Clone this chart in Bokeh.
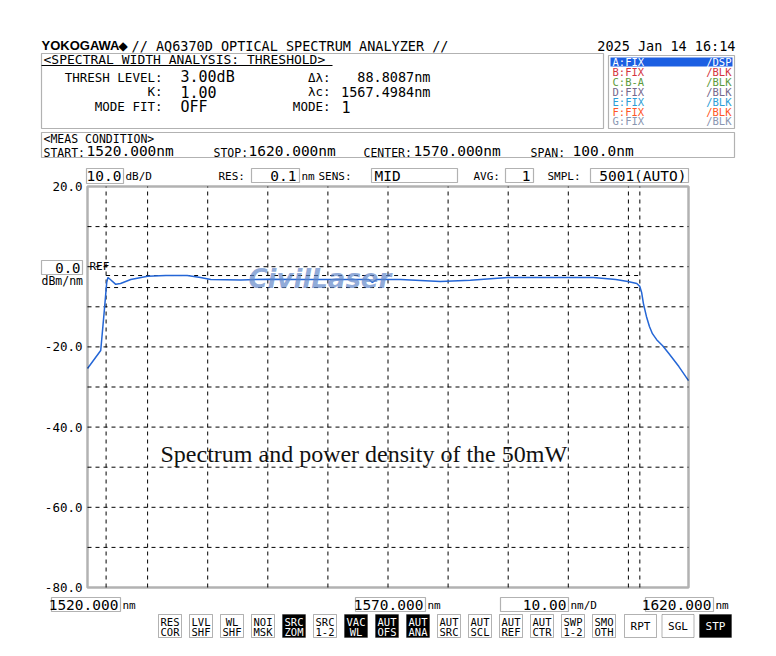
from bokeh.plotting import figure
from bokeh.models import Label, BoxAnnotation, Range1d
from bokeh.embed import file_html
from bokeh.resources import INLINE

# ---------------- data ----------------
wavelength = [1520.0, 1522.2, 1522.8, 1523.2, 1523.4, 1523.8, 1524.7, 1525.5, 1527.2, 1530.0,
              1533.0, 1536.6, 1538.8, 1540.5, 1545.5, 1550.4, 1555.4, 1562.1, 1566.8, 1567.4,
              1568.1, 1572.1, 1578.7, 1583.7, 1589.9, 1597.0, 1604.2, 1607.9, 1609.9, 1611.4,
              1611.9, 1612.2, 1612.5, 1613.0, 1613.5, 1614.0, 1614.7, 1615.7, 1616.7, 1618.4, 1620.0]
level = [-25.4, -20.9, -10.9, -3.9, -2.7, -3.2, -4.4, -4.2, -3.2, -2.4,
         -2.2, -2.2, -2.7, -3.2, -3.3, -3.1, -3.2, -3.2, -3.2, -3.9,
         -3.2, -3.2, -3.7, -3.4, -2.7, -2.7, -2.7, -3.2, -3.7, -4.2,
         -4.9, -6.4, -9.2, -12.4, -14.9, -16.7, -18.2, -19.7, -21.6, -24.9, -28.4]
center_wl = 1567.4984
delta_wl = 88.8087
peak_level = -2.2
thresh_db = 3.0
wl_start, wl_stop = 1520.0, 1620.0
db_top, db_bottom = 20.0, -80.0
y_label_ticks = [20, -20, -40, -60, -80]
y_grid_ticks = [10, 0, -10, -20, -30, -40, -50, -60, -70]
x_grid_ticks = [1530, 1540, 1550, 1560, 1570, 1580, 1590, 1600, 1610]

MONO = "DejaVu Sans Mono"
W, H = 760, 648
# screen placement of the measurement frame (canvas pixels)
FL, FR, FT, FB = 87, 688, 186, 587


def X(px):
    return wl_start + (px - FL) * (wl_stop - wl_start) / (FR - FL)


def Y(py):
    return db_top - (py - FT) * (db_top - db_bottom) / (FB - FT)


p = figure(width=W, height=H, output_backend="svg", toolbar_location=None,
           x_range=Range1d(X(0), X(W)), y_range=Range1d(Y(H), Y(0)),
           x_axis_location=None, y_axis_location=None,
           min_border=0, min_border_left=0, min_border_right=0, min_border_top=0, min_border_bottom=0)
p.background_fill_color = "white"
p.border_fill_color = "white"
p.outline_line_color = None
p.grid.visible = False


def box(l, t, r, b, fill=None, lw=1.2, line="black"):
    p.add_layout(BoxAnnotation(left=X(l), right=X(r), top=Y(t), bottom=Y(b),
                               fill_color=fill if fill else "white",
                               fill_alpha=1 if fill else 0,
                               line_color=line, line_width=lw, level="overlay"))


def txt(s, px, py, size=12, align="left", color="black", font=MONO, style="normal", alpha=1.0):
    p.add_layout(Label(x=X(px), y=Y(py), text=s, text_font=font, text_font_size=f"{size}px",
                       text_align=align, text_baseline="middle", text_color=color,
                       text_font_style=style, text_alpha=alpha, level="overlay"))


# grid (dashed)
p.segment(x0=x_grid_ticks, x1=x_grid_ticks, y0=[db_bottom] * len(x_grid_ticks), y1=[db_top] * len(x_grid_ticks),
          line_color="black", line_dash="4 4", line_width=1)
p.segment(x0=[wl_start] * len(y_grid_ticks), x1=[wl_stop] * len(y_grid_ticks), y0=y_grid_ticks, y1=y_grid_ticks,
          line_color="black", line_dash="4 4", line_width=1)

# threshold markers
lam1 = center_wl - delta_wl / 2
lam2 = center_wl + delta_wl / 2
p.segment(x0=[lam1, lam2], x1=[lam1, lam2], y0=[db_bottom, db_bottom], y1=[db_top, db_top],
          line_color="black", line_dash="4 4", line_width=1)
p.segment(x0=[lam1, lam1], x1=[lam2, lam2],
          y0=[peak_level, peak_level - thresh_db], y1=[peak_level, peak_level - thresh_db],
          line_color="black", line_dash="4 4", line_width=1)

# trace
p.line(wavelength, level, line_color="#2466d6", line_width=1.5)

# frame of the measurement area
p.add_layout(BoxAnnotation(left=wl_start, right=wl_stop, top=db_top, bottom=db_bottom,
                           fill_alpha=0, line_color="black", line_width=2.5, level="overlay"))

# y tick labels (0.0 is shown as the boxed reference level)
for t in y_label_ticks:
    p.add_layout(Label(x=X(FL - 5), y=t, text=f"{t:.1f}", text_font=MONO, text_font_size="12.5px",
                       text_align="right", text_baseline="middle", text_color="black", level="overlay"))

# header
txt("YOKOGAWA", 41, 45, 13, font="Liberation Sans", style="bold")
txt("\u25c6", 118, 45, 12, font="DejaVu Sans")
txt("// AQ6370D OPTICAL SPECTRUM ANALYZER //", 131, 45, 13.5)
txt("2025 Jan 14 16:14", 735, 45, 13.5, align="right")

# analysis box
box(41, 53, 603, 128)
box(41, 64.5, 332, 65.5, fill="black", lw=0, line=None)
txt("<SPECTRAL WIDTH ANALYSIS: THRESHOLD>", 43, 59, 13)
txt("THRESH LEVEL:", 162, 77, 12.5, align="right")
txt("3.00dB", 180, 76, 15)
txt("K:", 162, 91, 12.5, align="right")
txt("1.00", 180, 91, 15)
txt("MODE FIT:", 162, 106, 12.5, align="right")
txt("OFF", 180, 106, 15)
txt("\u0394\u03bb:", 330, 77, 12.5, align="right")
txt("88.8087nm", 430, 76, 13.5, align="right")
txt("\u03bbc:", 330, 91, 12.5, align="right")
txt("1567.4984nm", 430, 91, 13.5, align="right")
txt("MODE:", 330, 106, 12.5, align="right")
txt("1", 341, 106, 15)

# trace status box
box(608, 55, 734, 128)
box(610, 57, 732, 66, fill="#1c5fe2", lw=0, line=None)
traces = [("A:FIX", "/DSP", "white"), ("B:FIX", "/BLK", "#d4343e"), ("C:B-A", "/BLK", "#5c9a3c"),
          ("D:FIX", "/BLK", "#76688c"), ("E:FIX", "/BLK", "#2c9ed6"), ("F:FIX", "/BLK", "#ff5626"),
          ("G:FIX", "/BLK", "#8a96b0")]
for i, (a, b, c) in enumerate(traces):
    yy = 61.5 + i * 9.9
    txt(a, 612, yy, 10.5, color=c)
    txt(b, 731, yy, 10.5, color=c, align="right")

# measurement condition box
box(41, 132, 734, 157)
txt("<MEAS CONDITION>", 43, 138, 11.5)
for lab, lx, val, vx in [("START:", 43, "1520.000nm", 86), ("STOP:", 213, "1620.000nm", 248),
                         ("CENTER:", 363, "1570.000nm", 413), ("SPAN:", 530, "100.0nm", 572)]:
    txt(lab, lx, 152, 11.5)
    txt(val, vx, 150, 14.5)

# settings row
box(86, 168, 123, 183)
txt("10.0", 121, 175, 14.5, align="right")
txt("dB/D", 125, 176, 11)
txt("RES:", 218, 176, 11)
box(251, 168, 299, 182)
txt("0.1", 296, 175, 14.5, align="right")
txt("nm", 301, 176, 11)
txt("SENS:", 318, 176, 11)
box(371, 168, 457, 182)
txt("MID", 374, 175, 14.5)
txt("AVG:", 473, 176, 11)
box(505, 168, 533, 182)
txt("1", 530, 175, 14.5, align="right")
txt("SMPL:", 547, 176, 11)
box(590, 168, 688, 182)
txt("5001(AUTO)", 686, 175, 14.5, align="right")

# reference level
box(41, 260, 82, 274)
txt("0.0", 80, 267, 14, align="right")
txt("dBm/nm", 41, 280, 11.5)
txt("REF", 89, 266, 11)

# bottom scale boxes
for l, r, val, unit in [(51, 120, "1520.000", "nm"), (355, 425, "1570.000", "nm"),
                        (500, 568, "10.00", "nm/D"), (645, 713, "1620.000", "nm")]:
    box(l, 597, r, 611)
    txt(val, r - 2, 604, 14.5, align="right")
    txt(unit, r + 2, 605, 11)

# soft keys
keys = [("RES", "COR", 0), ("LVL", "SHF", 0), ("WL", "SHF", 0), ("NOI", "MSK", 0), ("SRC", "ZOM", 1),
        ("SRC", "1-2", 0), ("VAC", "WL", 1), ("AUT", "OFS", 1), ("AUT", "ANA", 1), ("AUT", "SRC", 0),
        ("AUT", "SCL", 0), ("AUT", "REF", 0), ("AUT", "CTR", 0), ("SWP", "1-2", 0), ("SMO", "OTH", 0)]
for i, (a, b, inv) in enumerate(keys):
    l = 158 + i * 31
    box(l, 614, l + 23, 637, fill="black" if inv else None, lw=1)
    col = "white" if inv else "black"
    txt(a, l + 11.5, 621, 10.5, align="center", color=col)
    txt(b, l + 11.5, 631, 10.5, align="center", color=col)
for i, (a, inv) in enumerate([("RPT", 0), ("SGL", 0), ("STP", 1)]):
    l = 624 + i * 37.5
    box(l, 614, l + 32, 637, fill="black" if inv else None, lw=1)
    txt(a, l + 16, 626, 11, align="center", color="white" if inv else "black")

# watermark and caption
txt("CivilLaser", 248, 278, 26, font="DejaVu Sans", style="bold italic", color="#5f86c8", alpha=0.7)
txt("Spectrum and power density of the 50mW", 160, 453, 24, font="Liberation Serif", color="#111111")

open("out.html", "w").write(file_html(p, INLINE))
